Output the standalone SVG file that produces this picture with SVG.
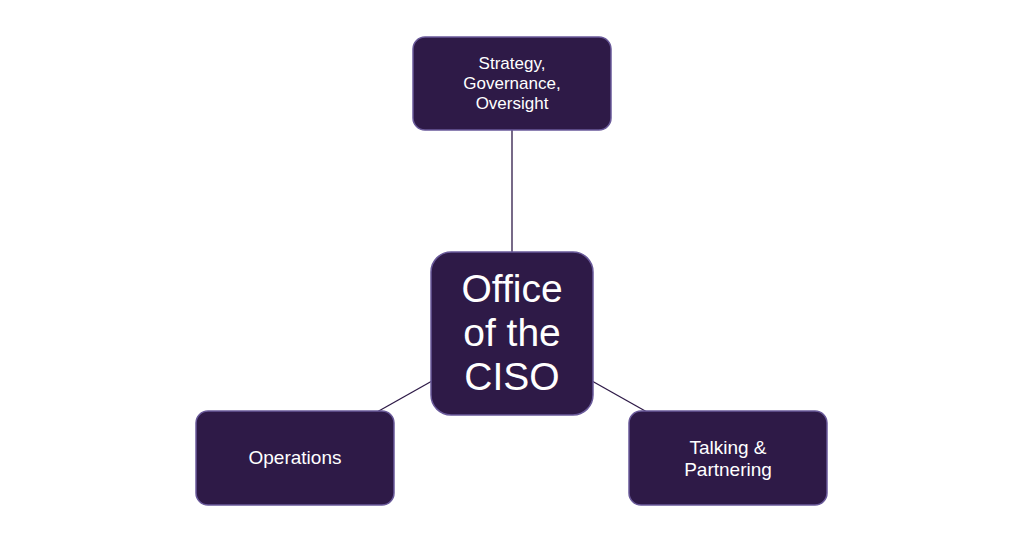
<svg xmlns="http://www.w3.org/2000/svg" width="1024" height="542" viewBox="0 0 1024 542">
<style>
.n{fill:#2e1a47;stroke:#6a5a9a;stroke-width:1.5}
.t{fill:#fff;font-family:"Liberation Sans",Arial,sans-serif;text-anchor:middle}
.c{stroke:#2e1a47;stroke-width:1.3;fill:none}
</style>
<rect width="1024" height="542" fill="#fff"/>
<g id="connectors">
<line class="c" x1="512" y1="130" x2="512" y2="253"/>
<line class="c" x1="432" y1="381" x2="377" y2="412"/>
<line class="c" x1="592" y1="381" x2="647" y2="412"/>
</g>
<g id="strategy"><rect class="n" x="413" y="37" width="198" height="93" rx="12"/>
<text class="t" font-size="17"><tspan x="512" y="69">Strategy,</tspan><tspan x="512" y="89">Governance,</tspan><tspan x="512" y="109">Oversight</tspan></text></g>
<g id="ciso"><rect class="n" x="431" y="252" width="162" height="163" rx="20"/>
<text class="t" font-size="39"><tspan x="512" y="302">Office</tspan><tspan x="512" y="346">of the</tspan><tspan x="512" y="390">CISO</tspan></text></g>
<g id="operations"><rect class="n" x="196" y="411" width="198" height="94" rx="12"/>
<text class="t" font-size="19" x="295" y="464">Operations</text></g>
<g id="talking"><rect class="n" x="629" y="411" width="198" height="94" rx="12"/>
<text class="t" font-size="19"><tspan x="728" y="454">Talking &amp;</tspan><tspan x="728" y="476">Partnering</tspan></text></g>
</svg>
